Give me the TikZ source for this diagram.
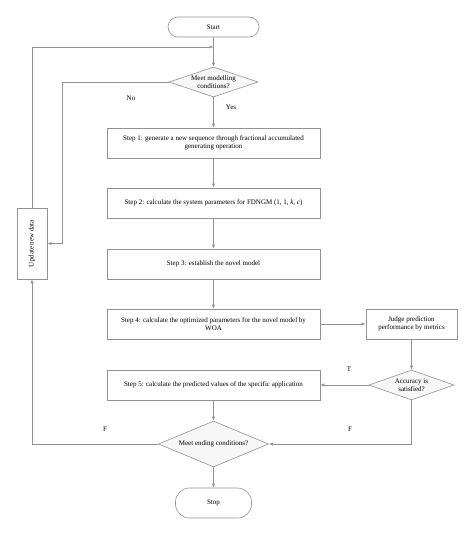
\documentclass[tikz,border=0pt]{standalone}
\usepackage{fontspec}
\setmainfont{Liberation Serif}
\usetikzlibrary{shapes.geometric,arrows.meta}

\tikzset{
  flowline/.style={draw=gray!85, line width=0.6pt},
  stepbox/.style={draw=gray!85, line width=0.6pt, fill=white, minimum width=213pt, minimum height=30pt, align=center, inner sep=2pt},
  smallbox/.style={draw=gray!85, line width=0.6pt, fill=white, minimum width=91pt, minimum height=30pt, align=center, inner sep=2pt},
  terminal/.style={draw=gray!85, line width=0.6pt, fill=white, rounded corners=10pt, minimum height=20pt},
  decision/.style={diamond, draw=gray!85, line width=0.6pt, fill=gray!6, inner sep=0pt},
  tag/.style={inner sep=1pt}
}

\begin{document}
\begin{tikzpicture}[x=1pt, y=-1pt, >={Latex[length=4pt,width=3.2pt]}, font=\fontsize{7}{8.4}\selectfont]

\useasboundingbox (0,0) rectangle (474,535);

% Nodes:
\node[terminal, minimum width=91pt] (start) at (213.5,27) {Start};
\node[decision, minimum width=89pt, minimum height=30pt] (cond) at (213.5,82) {};
\node[align=center] (condtext) at (213.5,82) {Meet modelling\\conditions?};
\node[stepbox] (step1) at (213.5,143) {Step 1: generate a new sequence through fractional accumulated\\generating operation};
\node[stepbox] (step2) at (213.5,203) {Step 2: calculate the system parameters for FDNGM (1, 1, \textit{k}, \textit{c})};
\node[stepbox] (step3) at (213.5,264) {Step 3: establish the novel model};
\node[stepbox] (step4) at (213.5,324) {Step 4: calculate the optimized parameters for the novel model by\\WOA};
\node[smallbox] (judge) at (411.5,324) {Judge prediction\\performance by metrics};
\node[decision, minimum width=85pt, minimum height=30pt] (acc) at (411.5,385) {};
\node[align=center] (acctext) at (411.5,385) {Accuracy is\\satisfied?};
\node[stepbox] (step5) at (213.5,385) {Step 5: calculate the predicted values of the specific application};
\node[decision, minimum width=110pt, minimum height=46pt] (ending) at (213.5,444) {};
\node (endingtext) at (213.5,444) {Meet ending conditions?};
\node[terminal, minimum width=76pt, minimum height=30pt, rounded corners=14pt] (stop) at (213.5,503) {Stop};
\node[draw=gray!85, line width=0.6pt, minimum width=71pt, minimum height=30pt, rotate=90] (update) at (32,243.5) {Update new data};

\coordinate (join) at (213.5,47);
\coordinate (nobend) at (62,82);

% Main flow:
\draw[flowline, ->] (start) -- (cond);
\draw[flowline, ->] (cond) -- (step1);
\draw[flowline, ->] (step1) -- (step2);
\draw[flowline, ->] (step2) -- (step3);
\draw[flowline, ->] (step3) -- (step4);
\draw[flowline, ->] (step4) -- (judge);
\draw[flowline, ->] (judge) -- (acc);
\draw[flowline, ->] (acc) -- (step5);
\draw[flowline, ->] (step5) -- (ending);
\draw[flowline, ->] (acc.south) |- (ending.east);
\draw[flowline, ->] (ending) -- (stop);
% Loops back:
\draw[flowline, ->] (cond.west) -- (nobend) |- (update.south);
\draw[flowline, ->] (ending.west) -| (update.west);
\draw[flowline, ->] (update.east) |- (join);

% Labels:
\node[tag] (nolabel) at (131,98) {No};
\node[tag] (yeslabel) at (231,107) {Yes};
\node[tag] (tlabel) at (349,369) {T};
\node[tag] (fleft) at (105,429) {F};
\node[tag] (fright) at (350,429) {F};

\end{tikzpicture}
\end{document}
